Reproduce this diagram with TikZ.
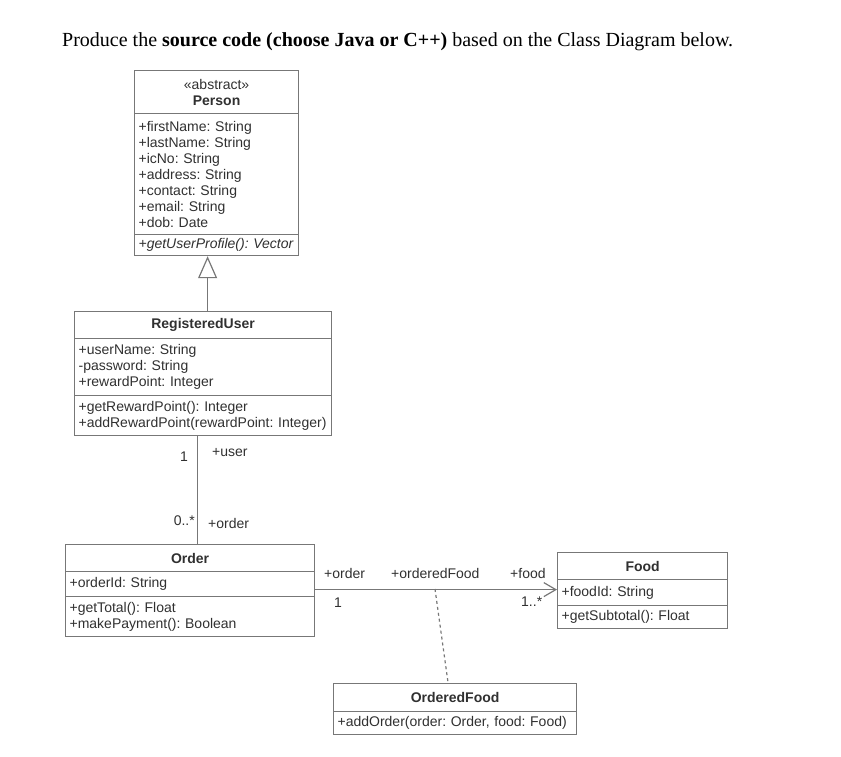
\documentclass[tikz,border=0pt]{standalone}
\usepackage{fontspec}
\setmainfont{Liberation Serif}
\setsansfont{Liberation Sans}
\usetikzlibrary{arrows.meta}
\definecolor{linegray}{HTML}{777777}
\definecolor{textgray}{HTML}{303030}
\frenchspacing
\hyphenpenalty=10000

\tikzset{
	part/.style={draw=linegray, line width=1.2pt, anchor=north west, inner xsep=4pt, inner ysep=0pt, align=left, text=textgray, font=\sffamily\fontsize{14}{16}\selectfont},
	head/.style={part, align=center},
	role/.style={text=textgray, inner sep=0pt, font=\sffamily\fontsize{14}{16}\selectfont},
	link/.style={draw=linegray, line width=1.2pt},
}

\begin{document}
\begin{tikzpicture}[x=1pt, y=-1pt]
	\useasboundingbox (0,0) rectangle (841,756);
	\node[anchor=base west, inner sep=0pt, font=\fontsize{20}{24}\selectfont] (title) at (62,46) {Produce the \textbf{source code (choose Java or C++)} based on the Class Diagram below.};

	% Person
	\node[head, text width=156pt, minimum height=43pt] (personhead) at (134,70) {«abstract»\\\textbf{Person}};
	\node[part, text width=156pt, minimum height=121pt] (personattr) at (134,113) {+firstName: String\\+lastName: String\\+icNo: String\\+address: String\\+contact: String\\+email: String\\+dob: Date};
	\node[part, text width=156pt, minimum height=21pt] (personops) at (134,234) {\textit{+getUserProfile(): Vector}};

	% RegisteredUser
	\node[head, text width=249pt, minimum height=27pt] (ruhead) at (74,311) {\textbf{RegisteredUser}};
	\node[part, text width=249pt, minimum height=57pt] (ruattr) at (74,338) {+userName: String\\-password: String\\+rewardPoint: Integer};
	\node[part, text width=249pt, minimum height=40pt] (ruops) at (74,395) {+getRewardPoint(): Integer\\+addRewardPoint(rewardPoint: Integer)};

	% Order
	\node[head, text width=241pt, minimum height=27pt] (orderhead) at (65,544) {\textbf{Order}};
	\node[part, text width=241pt, minimum height=25pt] (orderattr) at (65,571) {+orderId: String};
	\node[part, text width=241pt, minimum height=40pt] (orderops) at (65,596) {+getTotal(): Float\\+makePayment(): Boolean};

	% Food
	\node[head, text width=162pt, minimum height=27pt] (foodhead) at (557,552) {\textbf{Food}};
	\node[part, text width=162pt, minimum height=26pt] (foodattr) at (557,579) {+foodId: String};
	\node[part, text width=162pt, minimum height=23pt] (foodops) at (557,605) {+getSubtotal(): Float};

	% OrderedFood
	\node[head, text width=235pt, minimum height=28pt] (ofhead) at (333,683) {\textbf{OrderedFood}};
	\node[part, text width=235pt, minimum height=23pt] (ofops) at (333,711) {+addOrder(order: Order, food: Food)};

	% connectors
	\draw[link, -{Triangle[open, length=22pt, width=19pt]}] ([xshift=4.5pt]ruhead.north) -- ([xshift=4.5pt]ruhead.north |- personops.south);
	\draw[link] ([xshift=-5.5pt]ruops.south) -- ([xshift=-5.5pt]ruops.south |- orderhead.north);
	\coordinate (orderend) at ([yshift=-5.5pt]orderattr.east);
	\draw[link, -{Straight Barb[length=12pt, width=14pt]}] (orderend) -- (orderend -| foodattr.west);
	\coordinate (assoc) at (435,589);
	\draw[link, dash pattern=on 3pt off 3pt] (assoc) -- ([xshift=-7pt]ofhead.north);

	% roles and multiplicities
	\node[role] (ruone) at (184,457) {1};
	\node[role, anchor=west] (rurole) at (212,453) {+user};
	\node[role, anchor=east] (ordmany) at (195,521) {0..*};
	\node[role, anchor=west] (ordrole) at (208,523) {+order};
	\node[role, anchor=west] (foodorder) at (324,573) {+order};
	\node[role, anchor=west] (ofrole) at (391,573) {+orderedFood};
	\node[role, anchor=west] (foodrole) at (510,573) {+food};
	\node[role] (foodone) at (338,603) {1};
	\node[role, anchor=west] (foodmany) at (521,602) {1..*};
\end{tikzpicture}
\end{document}
